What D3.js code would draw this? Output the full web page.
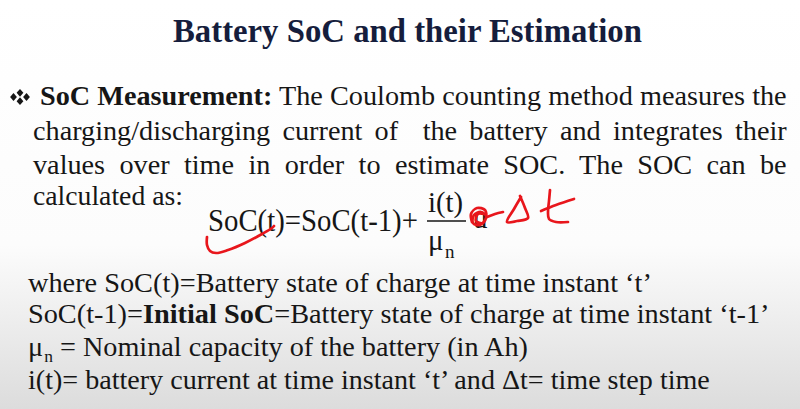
<!DOCTYPE html>
<html>
<head>
<meta charset="utf-8">
<script src="https://cdn.jsdelivr.net/npm/d3@7"></script>
<style>
  html, body { margin: 0; padding: 0; overflow: hidden; }
  svg text { white-space: pre; font-family: "Liberation Serif", "Times New Roman", serif; }
</style>
</head>
<body>
<div id="chart"></div>
<script>
// Text content
const titleText = "Battery SoC and their Estimation"

// paragraph lines: [segments], each segment {t, b (bold)}
const paraLines = [
  [{t: "SoC Measurement:", b: true}, {t: " The Coulomb counting method measures the"}],
  [{t: "charging/discharging current of  the battery and integrates their"}],
  [{t: "values over time in order to estimate SOC. The SOC can be"}],
  [{t: "calculated as:"}]
]
const paraJustify = [true, true, true, false]

const formulaLeft = "SoC(t)=SoC(t-1)+"
const formulaNum = "i(t)"
const formulaDen = ["μ", "n"]

const defLines = [
  [{t: "where SoC(t)=Battery state of charge at time instant ‘t’"}],
  [{t: "SoC(t-1)="}, {t: "Initial SoC", b: true}, {t: "=Battery state of charge at time instant ‘t-1’"}],
  [{t: "μ"}, {t: "n", sub: true}, {t: " = Nominal capacity of the battery (in Ah)"}],
  [{t: "i(t)= battery current at time instant ‘t’ and Δt= time step time"}]
]

// red pen annotations (picture coordinates)
const penCheck = [[207,237],[207,245],[210,251],[216,253],[228,250],[245,243],[262,234],[272,228],[274,226]]
const penScribble = [[472,222],[471,214],[477,208],[485,210],[486,218],[480,225],[473,223],[474,215],[481,212],[486,216],[483,223],[476,221],[478,214],[484,214]]
const penDash = [[487,217],[495,214],[503,212]]
const penDelta = [[521,197],[514,209],[507,222],[517,221],[528,218],[525,208],[520,196]]
const penTStem = [[550,190],[549,201],[548,212],[549,219],[556,222],[568,222]]
const penTCross = [[541,211],[556,205],[574,199]]

//Dimension
let dimensions = { width: 800, height: 409 }

const svg = d3.select("#chart")
  .append("svg")
  .attr("width", dimensions.width)
  .attr("height", dimensions.height)

// Scales (pixel space of the slide)
const x = d3.scaleLinear().domain([0, 800]).range([0, dimensions.width])
const y = d3.scaleLinear().domain([0, 409]).range([0, dimensions.height])

// Background gradient
const grad = svg.append("defs").append("linearGradient")
  .attr("id", "bg").attr("x1", 0).attr("y1", 0).attr("x2", 0).attr("y2", 1)
grad.append("stop").attr("offset", "0%").attr("stop-color", "#ffffff")
grad.append("stop").attr("offset", "60%").attr("stop-color", "#fcfcfc")
grad.append("stop").attr("offset", "100%").attr("stop-color", "#dcdcdc")
svg.append("rect").attr("width", dimensions.width).attr("height", dimensions.height).attr("fill", "url(#bg)")

const ink = "#161616"

// draws a line of segments, squeezed/justified to fit [x0, x1]
function textLine(segs, x0, x1, base, size, justify, condense, color) {
  const g = svg.append("g")
  const t = g.append("text")
    .attr("x", 0).attr("y", 0)
    .attr("font-size", size)
    .attr("fill", color || ink)
  segs.forEach((s, i) => {
    const sp = t.append("tspan").text(s.t)
    if (s.b) sp.attr("font-weight", "bold")
    if (s.sub) sp.attr("font-size", size * 0.62).attr("dy", 6).attr("dx", 1)
    else if (i > 0 && segs[i - 1].sub) sp.attr("dy", -6)
  })
  const natural = t.node().getComputedTextLength()
  const target = x(x1) - x(x0)
  let k = target / natural
  if (justify) {
    k = condense
    const spaces = segs.map(s => s.t).join("").split(" ").length - 1
    const extra = (target / k - natural) / spaces
    t.attr("word-spacing", extra)
  }
  g.attr("transform", `translate(${x(x0)},${y(base)}) scale(${k},1)`)
  return k
}

// Title
textLine([{t: titleText, b: true}], 173, 642, 42, 33, false, null, "#151d3c")

// Definition lines (unjustified, tell us the squeeze)
const defX = 28
const defBase = [292, 323, 356, 389]
const defEnd = [652, 770, 527, 710]
const ks = defLines.map((segs, i) => textLine(segs, defX, defEnd[i], defBase[i], 27, false))
const condense = d3.mean(ks)

// Paragraph
const paraStart = [40, 33, 33, 33]
const paraEnd = [787, 787, 787, 183]
const paraBase = [105, 140, 174, 205]
paraLines.forEach((segs, i) => textLine(segs, paraStart[i], paraEnd[i], paraBase[i], 27, paraJustify[i], condense))

// Bullet: four small diamonds
const bullet = [[-6.5, 0], [6.5, 0], [0, -4.2], [0, 4.2]]
svg.append("g")
  .selectAll("path")
  .data(bullet)
  .join("path")
  .attr("transform", d => `translate(${x(20) + d[0]},${y(97) + d[1]})`)
  .attr("d", "M0,-3.9L3.4,0L0,3.9L-3.4,0Z")
  .attr("fill", ink)

// Formula
textLine([{t: formulaLeft}], 208, 418, 231, 31, false)
textLine([{t: formulaNum}], 428, 463, 212, 29, false)
svg.append("line")
  .attr("x1", x(427)).attr("x2", x(466))
  .attr("y1", y(221)).attr("y2", y(221))
  .attr("stroke", ink).attr("stroke-width", 1.4)
svg.append("text").attr("x", x(428)).attr("y", y(250)).attr("font-size", 29).attr("fill", ink).text(formulaDen[0])
svg.append("text").attr("x", x(445)).attr("y", y(258)).attr("font-size", 19).attr("fill", ink).text(formulaDen[1])
svg.append("text").attr("x", x(473)).attr("y", y(228)).attr("font-size", 29).attr("fill", ink).text("u")

// Red pen strokes
const pen = d3.line().x(d => x(d[0])).y(d => y(d[1])).curve(d3.curveCatmullRom)
svg.append("g")
  .selectAll("path")
  .data([penCheck, penScribble, penDash, penDelta, penTStem, penTCross])
  .join("path")
  .attr("d", pen)
  .attr("fill", "none")
  .attr("stroke", "#e8161c")
  .attr("stroke-width", 2.7)
  .attr("stroke-linecap", "round")
  .attr("stroke-linejoin", "round")
</script>
</body>
</html>
